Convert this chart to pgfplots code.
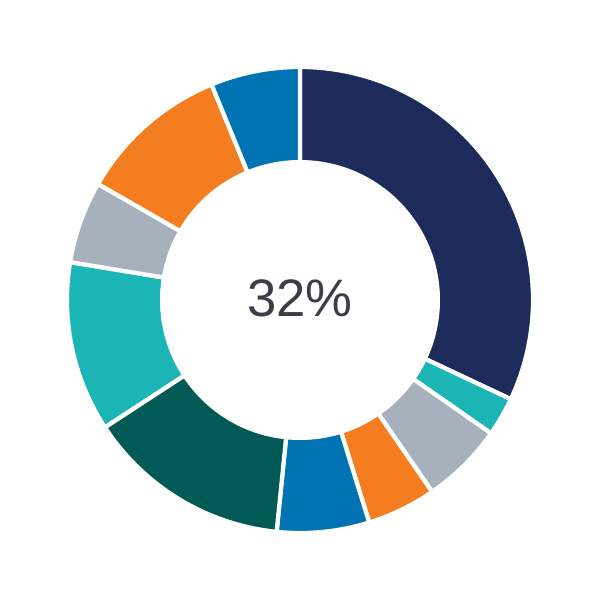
\documentclass[border=0pt]{standalone}
\usepackage{pgfplots}
\usepackage{pgfplotstable}
\usepackage{fontspec}
\setmainfont{Liberation Sans}
\pgfplotsset{compat=1.18}
\definecolor{cnavy}{HTML}{1C2B5A}
\definecolor{cteal}{HTML}{1CB5B5}
\definecolor{cgray}{HTML}{A7B1BE}
\definecolor{corange}{HTML}{F47D20}
\definecolor{cblue}{HTML}{0073B3}
\definecolor{cgreen}{HTML}{015A55}
\definecolor{textgray}{HTML}{3A3F47}

% share of each ring segment, clockwise from 12 o'clock
\pgfplotstableread{
value colour
32.0 cnavy
2.7  cteal
5.7  cgray
4.8  corange
6.4  cblue
14.2 cgreen
11.8 cteal
5.7  cgray
10.5 corange
6.2  cblue
}\donut

\begin{document}
\begin{tikzpicture}
\begin{axis}[
    width=8cm, height=8cm,
    scale only axis,
    xmin=-300, xmax=300,
    ymin=-300, ymax=300,
    hide axis,
]
\gdef\cum{0}
\pgfplotsinvokeforeach{0,...,9}{
    \pgfplotstablegetelem{#1}{value}\of\donut \let\v\pgfplotsretval
    \pgfplotstablegetelem{#1}{colour}\of\donut \let\c\pgfplotsretval
    \pgfmathsetmacro\a{3.6*\cum}
    \pgfmathsetmacro\b{3.6*(\cum+\v)}
    \pgfmathparse{\cum+\v}\xdef\cum{\pgfmathresult}
    \edef\seg{\noexpand\addplot[fill=\c, draw=white, line width=1.6pt,
        line join=round, domain=\a:\b, samples=60, variable=\noexpand\t]
        ({233*sin(\noexpand\t)},{233*cos(\noexpand\t)}) -- (axis cs:0,0) -- cycle;}
    \seg
}
\fill[white] (axis cs:0,0) circle[radius=140];
\node[font=\fontsize{20}{24}\selectfont, text=textgray] at (axis cs:0,2) {32\%};
\path (rel axis cs:0,0) (rel axis cs:1,1);
\end{axis}
\end{tikzpicture}
\end{document}
